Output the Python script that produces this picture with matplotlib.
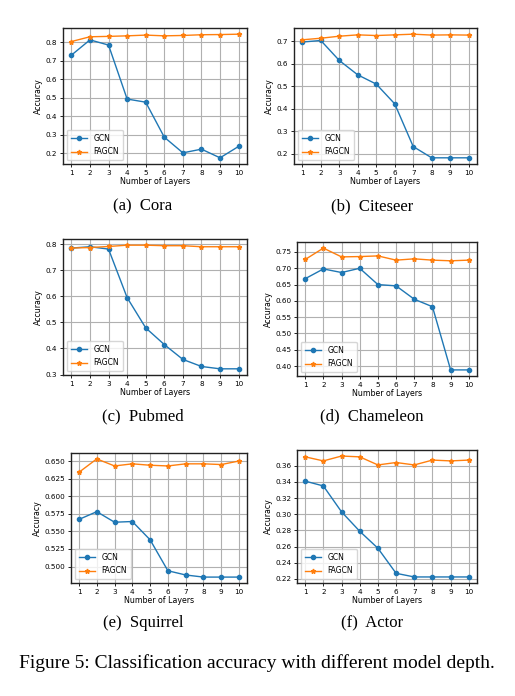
import matplotlib
matplotlib.use("Agg")
import matplotlib.pyplot as plt
from matplotlib.ticker import MultipleLocator

# ── data ───────────────────────────────────────────────────────────────────
layers = list(range(1, 11))

cora_gcn   = [0.731, 0.814, 0.786, 0.493, 0.476, 0.286, 0.201, 0.221, 0.174, 0.236]
cora_fagcn = [0.805, 0.831, 0.833, 0.836, 0.840, 0.836, 0.838, 0.842, 0.843, 0.845]

citeseer_gcn   = [0.696, 0.703, 0.614, 0.550, 0.509, 0.421, 0.231, 0.181, 0.181, 0.181]
citeseer_fagcn = [0.706, 0.713, 0.722, 0.728, 0.725, 0.728, 0.731, 0.727, 0.728, 0.727]

pubmed_gcn   = [0.785, 0.790, 0.781, 0.595, 0.479, 0.415, 0.358, 0.331, 0.322, 0.322]
pubmed_fagcn = [0.785, 0.787, 0.791, 0.796, 0.796, 0.794, 0.794, 0.790, 0.790, 0.790]

chameleon_gcn   = [0.668, 0.698, 0.687, 0.700, 0.650, 0.646, 0.605, 0.582, 0.388, 0.388]
chameleon_fagcn = [0.727, 0.762, 0.735, 0.736, 0.738, 0.725, 0.729, 0.725, 0.723, 0.725]

squirrel_gcn   = [0.567, 0.578, 0.563, 0.564, 0.538, 0.494, 0.488, 0.485, 0.485, 0.485]
squirrel_fagcn = [0.634, 0.653, 0.643, 0.646, 0.644, 0.643, 0.646, 0.646, 0.645, 0.650]

actor_gcn   = [0.341, 0.335, 0.303, 0.279, 0.258, 0.227, 0.2225, 0.2225, 0.2225, 0.2225]
actor_fagcn = [0.371, 0.366, 0.372, 0.371, 0.361, 0.364, 0.361, 0.367, 0.366, 0.367]

captions = ["(a)  Cora", "(b)  Citeseer", "(c)  Pubmed",
            "(d)  Chameleon", "(e)  Squirrel", "(f)  Actor"]
y_steps = [0.1, 0.1, 0.1, 0.05, 0.025, 0.02]
fig_caption = "Figure 5: Classification accuracy with different model depth."

# ── layout (pixel boxes: left, right, top, bottom) ─────────────────────────
W, H = 515, 696
boxes = [(63, 247, 28, 164), (294, 477, 28, 164),
         (63, 247, 239, 375), (297, 477, 242, 376),
         (71, 247, 453, 583), (297, 477, 450, 583)]
caption_pos = [(143, 206), (372, 206), (143, 416),
               (372, 416), (143, 623), (372, 623)]

series = [(cora_gcn, cora_fagcn), (citeseer_gcn, citeseer_fagcn),
          (pubmed_gcn, pubmed_fagcn), (chameleon_gcn, chameleon_fagcn),
          (squirrel_gcn, squirrel_fagcn), (actor_gcn, actor_fagcn)]

fig = plt.figure(figsize=(W / 100, H / 100), dpi=100)

for (gcn, fagcn), (l, r, t, b), step, cap, (cx, cy) in zip(
        series, boxes, y_steps, captions, caption_pos):
    ax = fig.add_axes([l / W, 1 - b / H, (r - l) / W, (b - t) / H])
    ax.plot(layers, gcn, "o-", color="#1f77b4", lw=1, ms=3, label="GCN")
    ax.plot(layers, fagcn, "*-", color="#ff7f0e", lw=1, ms=3.5, label="FAGCN")
    ax.set_xticks(layers)
    ax.yaxis.set_major_locator(MultipleLocator(step))
    ax.grid(True, color="#b0b0b0", lw=0.8)
    ax.tick_params(labelsize=5.2, length=2.5, width=0.6, pad=1.5)
    ax.set_xlabel("Number of Layers", fontsize=5.7, labelpad=1)
    ax.set_ylabel("Accuracy", fontsize=5.7, labelpad=2)
    for s in ax.spines.values():
        s.set_linewidth(1.0)
        s.set_color("#222222")
    ax.legend(loc="lower left", fontsize=5.5, handlelength=2.2,
              borderpad=0.5, labelspacing=0.6)
    fig.text(cx / W, 1 - cy / H, cap, ha="center", va="center",
             fontsize=12, family="Liberation Serif")

fig.text(257 / W, 1 - 663 / H, fig_caption, ha="center", va="center",
         fontsize=14, family="Liberation Serif")

fig.savefig("out.png", dpi=100)
